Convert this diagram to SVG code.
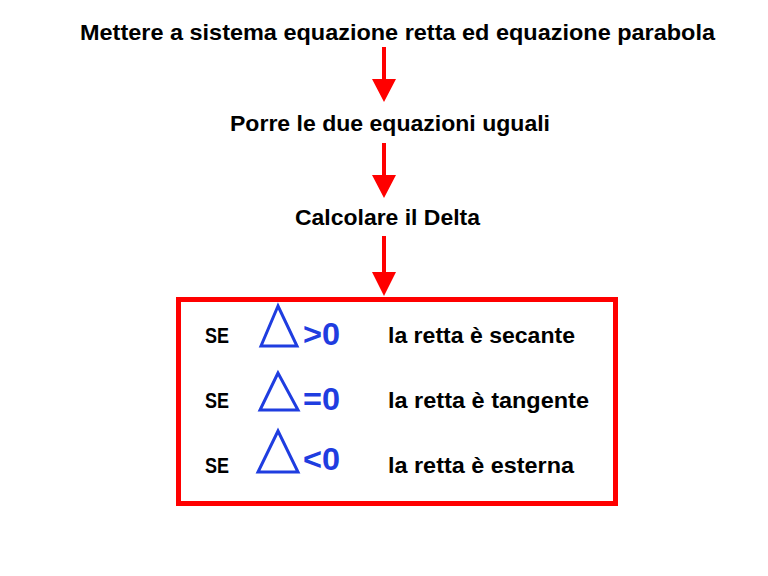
<svg xmlns="http://www.w3.org/2000/svg" width="768" height="576" viewBox="0 0 768 576">
<style>
.t{font-family:"Liberation Sans","Open Sans",sans-serif;font-weight:bold;fill:#000;font-size:22px}
.b{font-family:"Liberation Sans","Open Sans",sans-serif;font-weight:bold;fill:#1f3de0;font-size:31px}
.tri{fill:none;stroke:#1f3de0;stroke-width:3;stroke-linejoin:miter}
.arr{fill:#ff0000}
</style>
<rect width="768" height="576" fill="#fff"/>
<g id="n1"><text class="t" x="80" y="40" textLength="635" lengthAdjust="spacingAndGlyphs">Mettere a sistema equazione retta ed equazione parabola</text></g>
<g id="n2"><text class="t" x="230" y="131" textLength="320" lengthAdjust="spacingAndGlyphs">Porre le due equazioni uguali</text></g>
<g id="n3"><text class="t" x="295" y="225" textLength="185" lengthAdjust="spacingAndGlyphs">Calcolare il Delta</text></g>
<g id="connectors">
<path class="arr" d="M382 47h4v32h10l-12 23l-12-23h10z"/>
<path class="arr" d="M382 143h4v32h10l-12 23l-12-23h10z"/>
<path class="arr" d="M382 236h4v36h10l-12 24l-12-24h10z"/>
</g>
<g id="n4">
<rect x="178.5" y="299.5" width="437" height="204" fill="none" stroke="#ff0000" stroke-width="5"/>
<text class="t" x="205" y="343" textLength="24" lengthAdjust="spacingAndGlyphs">SE</text>
<text class="t" x="205" y="408" textLength="24" lengthAdjust="spacingAndGlyphs">SE</text>
<text class="t" x="205" y="473" textLength="24" lengthAdjust="spacingAndGlyphs">SE</text>
<path class="tri" d="M278 306L261 346H297Z"/>
<path class="tri" d="M278 373L260 410H298Z"/>
<path class="tri" d="M278 431L258 472H298Z"/>
<text class="b" x="303" y="345" textLength="37" lengthAdjust="spacingAndGlyphs">&gt;0</text>
<text class="b" x="303" y="410" textLength="37" lengthAdjust="spacingAndGlyphs">=0</text>
<text class="b" x="303" y="470" textLength="37" lengthAdjust="spacingAndGlyphs">&lt;0</text>
<text class="t" x="388" y="343" textLength="187" lengthAdjust="spacingAndGlyphs">la retta è secante</text>
<text class="t" x="388" y="408" textLength="201" lengthAdjust="spacingAndGlyphs">la retta è tangente</text>
<text class="t" x="388" y="473" textLength="186" lengthAdjust="spacingAndGlyphs">la retta è esterna</text>
</g>
</svg>
